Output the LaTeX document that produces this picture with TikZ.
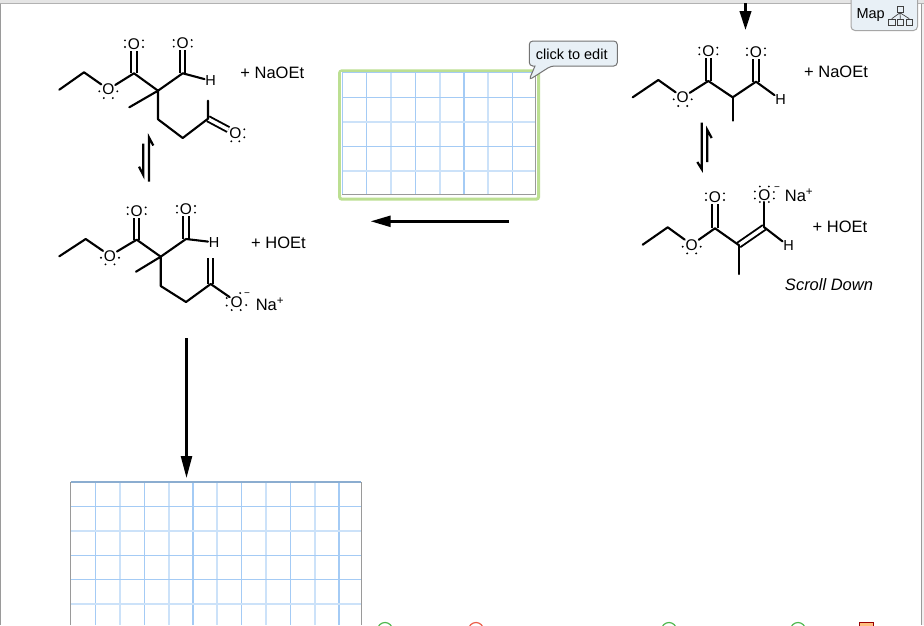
\documentclass[tikz,border=0pt]{standalone}
\usepackage{fontspec}
\setmainfont{Liberation Sans}
\usetikzlibrary{arrows.meta}
\definecolor{gridA}{HTML}{A4CBF5}
\definecolor{gridB}{HTML}{CCE2F9}
\definecolor{edgegray}{HTML}{9A9A9A}
\definecolor{bubble}{HTML}{E8F0F6}
\definecolor{framegreen}{HTML}{BCDF92}
\tikzset{
  bond/.style={line width=2.1pt,line cap=round,line join=round},
  dbond/.style={line width=1.9pt,double,double distance=3.4pt},
  atom/.style={inner sep=0pt,outer sep=0pt,minimum size=14pt,font=\fontsize{15.5}{15.5}\selectfont},
  hatom/.style={inner sep=0pt,outer sep=0pt,minimum size=12pt,font=\fontsize{14.5}{15}\selectfont},
  reagent/.style={inner sep=0pt,font=\fontsize{16.5}{18}\selectfont},
  minus/.style={inner sep=0pt,font=\fontsize{10}{10}\selectfont},
  harp/.style={line width=2.2pt},
  bigarrow/.style={line width=2.4pt,-{Triangle[length=22pt,width=11pt]}},
  gridthin/.style={draw=gridA,line width=1.1pt},
  gridwide/.style={draw=gridB,line width=1.7pt},
  mapbox/.style={draw=black!75,line width=.6pt,minimum size=6.3pt,inner sep=0pt}
}
\newcommand{\lonep}[2]{\edef\templist{#2}\foreach \dx/\dy in \templist {\fill ([shift={(\dx,\dy)}]#1.center) circle (1.05pt);}}
\newcommand{\topO}{-9/-3.3,-9/3.3,9/-3.3,9/3.3}
\newcommand{\estO}{-9/2,9/2,-4.5/8.7,4.5/8.7}
\begin{document}
\begin{tikzpicture}[x=1pt,y=-1pt]
\useasboundingbox (0,0) rectangle (924,625);
\clip (0,0) rectangle (924,625);
\fill[white] (0,0) rectangle (924,625);
% window edges
\fill[black!10] (0,0) rectangle (924,3);
\draw[black!30,line width=1pt] (0,3.5) -- (924,3.5);
\draw[edgegray,line width=1.2pt] (0.5,3.5) -- (0.5,625);
\draw[edgegray,line width=1.2pt] (921.5,3.5) -- (921.5,625);
\fill[black!6] (922,4) rectangle (924,625);

% Map button
\draw[draw=black!35,fill=bubble,line width=1pt,rounded corners=4pt] (851,-5) rectangle (917.5,30.5);
\node[inner sep=0pt,font=\fontsize{14.5}{14}\selectfont] (maplabel) at (870.7,15.5) {Map};
\node[mapbox] (mt) at (900,9.3) {};
\node[mapbox] (ml) at (891.7,22.2) {};
\node[mapbox] (mc) at (900.3,22.2) {};
\node[mapbox] (mr) at (909.3,22.2) {};
\draw[black!75,line width=.7pt] (mt.south) -- (ml.north) (mt.south) -- (mc.north) (mt.south) -- (mr.north);

% Molecule 1
\coordinate (a1) at (59.3,89.7); \coordinate (a2) at (84,72.3);
\node[atom] (a3) at (108.3,89.3) {O}; \coordinate (a4) at (134,73.3);
\node[atom] (a5) at (134,43.7) {O}; \coordinate (a6) at (158,90.7);
\coordinate (a7) at (182.7,73.3); \node[atom] (a8) at (182.7,43.3) {O};
\node[hatom] (a9) at (210.5,80.7) {H}; \coordinate (a10) at (129.3,107.3);
\coordinate (a11) at (158,119.3); \coordinate (a12) at (182.7,138);
\coordinate (a13) at (208,118.7); \coordinate (a14) at (208,100.7);
\node[atom] (a15) at (235.3,133.3) {O};
\draw[dbond] (a4) -- (a5); \draw[dbond] (a7) -- (a8); \draw[dbond] (a13) -- (a15);
\draw[bond] (a1) -- (a2) -- (a3) -- (a4) -- (a6) -- (a7) -- (a9);
\draw[bond] (a10) -- (a6) -- (a11) -- (a12) -- (a13) -- (a14);
\lonep{a3}{\estO} \lonep{a5}{\topO} \lonep{a8}{\topO}
\lonep{a15}{9/-4,9/4,-4/8,4/8}
\node[reagent] (r1) at (272.3,72.7) {+ NaOEt};

% Equilibrium 1
\coordinate (e1a) at (149,137.5); \coordinate (e1b) at (149,181.5); \coordinate (e1c) at (153.3,145.5);
\coordinate (e1d) at (143.3,143.5); \coordinate (e1e) at (143.3,175); \coordinate (e1f) at (139,166.7);
\draw[harp] (e1c) -- (e1a) -- (e1b);
\draw[harp] (e1d) -- (e1e) -- (e1f);

% Molecule 2
\coordinate (b1) at (59.3,256.3); \coordinate (b2) at (85.7,239);
\node[atom] (b3) at (110,255.7) {O}; \coordinate (b4) at (136.7,239.7);
\node[atom] (b5) at (136.7,210.7) {O}; \coordinate (b6) at (160.7,256.7);
\coordinate (b7) at (186,239); \node[atom] (b8) at (186,209.3) {O};
\node[hatom] (b9) at (214,242.3) {H}; \coordinate (b10) at (136,271.7);
\coordinate (b11) at (160.7,286); \coordinate (b12) at (186,302);
\coordinate (b13) at (210.7,284); \coordinate (b14) at (210.7,257.7);
\node[atom] (b15) at (236.7,302) {O};
\draw[dbond] (b4) -- (b5); \draw[dbond] (b7) -- (b8); \draw[dbond] (b13) -- (b14);
\draw[bond] (b1) -- (b2) -- (b3) -- (b4) -- (b6) -- (b7) -- (b9);
\draw[bond] (b10) -- (b6) -- (b11) -- (b12) -- (b13) -- (b15);
\lonep{b3}{\estO} \lonep{b5}{\topO} \lonep{b8}{\topO}
\lonep{b15}{3.5/-9,-10/-4,-10/3.5,-5/8,4/8,9.5/3}
\node[minus] (b16) at (247,295) {−};
\node[reagent] (b17) at (270,304.3) {Na\textsuperscript{+}};
\node[reagent] (r2) at (278.5,243.3) {+ HOEt};

% Big arrow down
\coordinate (d1) at (186.5,338); \coordinate (d2) at (186.5,478);
\draw[bigarrow] (d1) -- (d2);

% Molecule 3
\coordinate (c1) at (632.7,97.3); \coordinate (c2) at (658.3,80);
\node[atom] (c3) at (682.7,97.3) {O}; \coordinate (c4) at (708.3,81);
\node[atom] (c5) at (708.3,51) {O}; \coordinate (c6) at (732.7,97.3);
\coordinate (c7) at (756,81.7); \node[atom] (c8) at (756,51.7) {O};
\node[hatom] (c9) at (780.5,99.5) {H}; \coordinate (c10) at (732.7,120.7);
\draw[dbond] (c4) -- (c5); \draw[dbond] (c7) -- (c8);
\draw[bond] (c1) -- (c2) -- (c3) -- (c4) -- (c6) -- (c7) -- (c9);
\draw[bond] (c6) -- (c10);
\lonep{c3}{\estO} \lonep{c5}{\topO} \lonep{c8}{\topO}
\node[reagent] (r3) at (836,71.7) {+ NaOEt};

% Equilibrium 2
\coordinate (e2a) at (701.7,122.5); \coordinate (e2b) at (701.7,169); \coordinate (e2c) at (697.3,162);
\coordinate (e2d) at (707.3,162); \coordinate (e2e) at (707.3,130); \coordinate (e2f) at (711.7,138);
\draw[harp] (e2a) -- (e2b) -- (e2c);
\draw[harp] (e2d) -- (e2e) -- (e2f);

% Molecule 4
\coordinate (f1) at (642.7,244.7); \coordinate (f2) at (667.7,227.3);
\node[atom] (f3) at (691.7,244.7) {O}; \coordinate (f4) at (715,228.3);
\node[atom] (f5) at (715,196.7) {O}; \coordinate (f6) at (738.7,245);
\coordinate (f7) at (764.3,227.3); \node[atom] (f8) at (764.3,195) {O};
\node[hatom] (f9) at (788.5,246) {H}; \coordinate (f10) at (738.7,274);
\draw[dbond] (f4) -- (f5); \draw[dbond] (f6) -- (f7);
\draw[bond] (f1) -- (f2) -- (f3) -- (f4) -- (f6) (f7) -- (f9);
\draw[bond] (f6) -- (f10) (f7) -- (f8);
\lonep{f3}{\estO} \lonep{f5}{\topO}
\lonep{f8}{-4.5/-8.5,4.5/-8.5,-9.5/-3.5,-9.5/3.5,-4.5/7,4.5/7,9.5/-3,9.5/3.5}
\node[minus] (f11) at (777,188.5) {−};
\node[reagent] (f12) at (799,195) {Na\textsuperscript{+}};
\node[reagent] (r4) at (840,226.7) {+ HOEt};
\node[inner sep=0pt,font=\fontsize{16.5}{18}\selectfont\itshape] (sd) at (829,284.5) {Scroll Down};

% Top arrow
\coordinate (t1) at (745.5,3); \coordinate (t2) at (745.5,30);
\draw[line width=2.4pt,-{Triangle[length=19pt,width=11.5pt]}] (t1) -- (t2);

% Horizontal arrow
\coordinate (h1) at (509,221.3); \coordinate (h2) at (370.7,221.3);
\draw[line width=2.4pt,-{Triangle[length=20pt,width=11pt]}] (h1) -- (h2);

% Edit grid 1
\draw[draw=framegreen,line width=3pt,rounded corners=2.5pt] (339.5,70.8) rectangle (538.7,199.2);
\fill[white] (341,72) rectangle (536,195);
\foreach \gx in {391,439.7,488.3} \draw[gridwide] (\gx,73) -- (\gx,194);
\foreach \gx in {366.7,415.3,464,512.7} \draw[gridthin] (\gx,73) -- (\gx,194);
\foreach \gy in {121.7,170.7} \draw[gridwide] (342,\gy) -- (535,\gy);
\foreach \gy in {97.7,146.3} \draw[gridthin] (342,\gy) -- (535,\gy);
\draw[gridA,line width=1pt] (342,194.3) -- (342,72.7) -- (535,72.7);
\draw[edgegray,line width=1pt] (535,72.7) -- (535,194.3) -- (342,194.3);

% Callout
\draw[draw=black!55,fill=bubble,line width=1pt,rounded corners=3.5pt]
  (535,66) -- (529.3,66) -- (529.3,41) -- (617.3,41) -- (617.3,66) -- (551,66) -- (529,80) [sharp corners] -- cycle;
\node[inner sep=0pt,font=\fontsize{14.5}{16}\selectfont] (edit) at (571.7,54) {click to edit};

% Edit grid 2
\foreach \gx in {120,168.7,217.3,266,314.7} \draw[gridwide] (\gx,482) -- (\gx,625);
\foreach \gx in {95.7,144.3,193,241.7,290.3,339} \draw[gridthin] (\gx,482) -- (\gx,625);
\foreach \gy in {531,604} \draw[gridwide] (71,\gy) -- (361,\gy);
\foreach \gy in {506.3,555.3,579.7} \draw[gridthin] (71,\gy) -- (361,\gy);
\draw[edgegray,line width=1.2pt] (70.7,482) -- (70.7,625);
\draw[edgegray,line width=1.2pt] (361.2,482) -- (361.2,625);
\draw[gridA!85!black,line width=1.2pt] (70.7,482) -- (361.2,482);

% Buttons cut off at the lower edge
\draw[green!60!black!70,line width=1.2pt] (385,630) circle (7.5pt);
\draw[red!60!brown!80,line width=1.2pt] (476,630) circle (7.5pt);
\draw[green!60!black!70,line width=1.2pt] (669,630) circle (7.5pt);
\draw[green!60!black!70,line width=1.2pt] (798,630) circle (7.5pt);
\draw[red!60!black,fill=orange!50,line width=1pt] (859.5,622.8) rectangle (873.5,632);
\end{tikzpicture}
\end{document}
